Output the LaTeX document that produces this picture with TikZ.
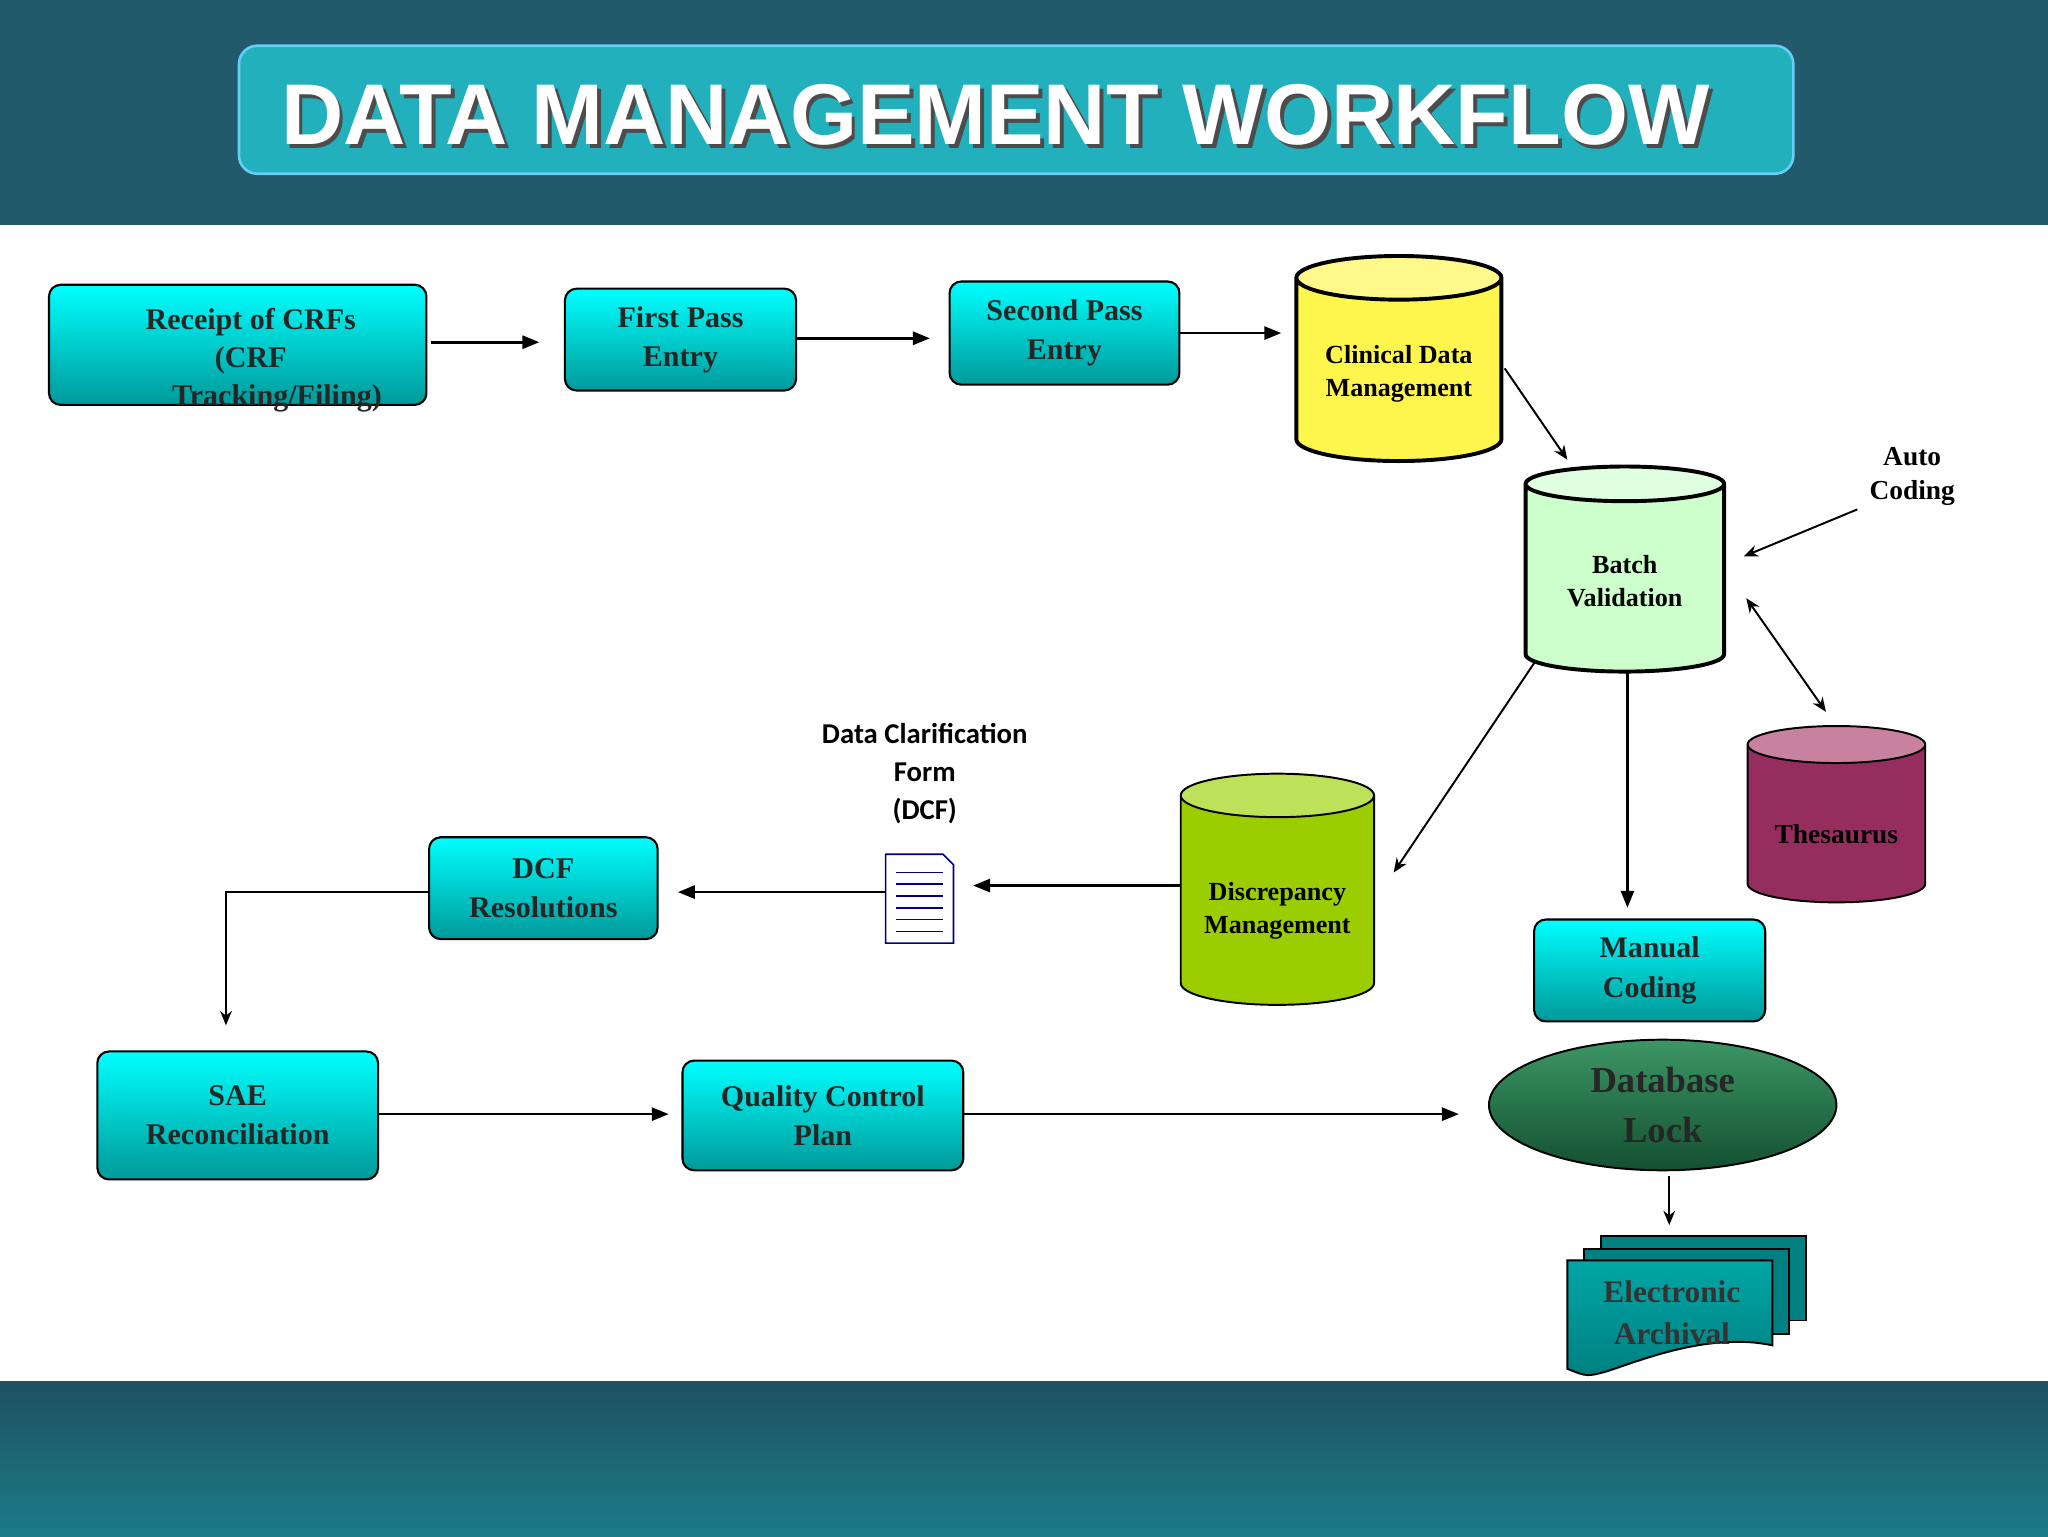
\documentclass[tikz,border=0pt]{standalone}
\usepackage{fontspec}
\setmainfont{Liberation Serif}
\newfontfamily\titlefont{Liberation Sans}
\newfontfamily\dcffont{Carlito}
\usetikzlibrary{shapes.geometric,arrows.meta,shadows}
\definecolor{band}{HTML}{225A6C}
\definecolor{titlebox}{HTML}{22B0BD}
\begin{document}
\begin{tikzpicture}[x=1pt,y=-1pt,
  box/.style={draw=black,line width=1.6pt,rounded corners=9pt,top color=cyan,bottom color=teal!80!cyan,
    align=center,font=\fontsize{23}{30}\selectfont\bfseries,text=black!85},
  cyl/.style={draw=black,line width=3pt,cylinder,shape border rotate=90,aspect=0.28,align=center,
    cylinder uses custom fill,font=\fontsize{20}{25}\selectfont\bfseries},
  arr/.style={line width=2pt,-{Triangle[length=13pt,width=10pt]}},
  thin/.style={line width=1.5pt,-{Stealth[length=11pt,width=9pt]}}]
\useasboundingbox (0,0) rectangle (1568,1176);
\fill[band] (0,0) rectangle (1568,172);
\fill[white] (0,172) rectangle (1568,1058);
\shade[top color=band!90!black,bottom color=band!80!cyan] (0,1058) rectangle (1568,1176);
\node[draw=cyan!60!white,line width=2pt,fill=titlebox,rounded corners=14pt,minimum width=1190pt,minimum height=98pt] (title) at (778,84) {};
\node[text=black!70,font=\titlefont\fontsize{66}{70}\selectfont\bfseries] at (765,91) {DATA MANAGEMENT WORKFLOW};
\node[text=white,font=\titlefont\fontsize{66}{70}\selectfont\bfseries] (tt) at (762,88) {DATA MANAGEMENT WORKFLOW};

\node[box,minimum width=289pt,minimum height=92pt] (rec) at (182,264) {};
\node[font=\fontsize{23}{29}\selectfont\bfseries,text=black!85,align=center] (rect) at (192,276) {Receipt of CRFs\\(CRF\\\hspace*{40pt}Tracking/Filing)};
\node[box,minimum width=177pt,minimum height=78pt] (fp) at (521,260) {First Pass\\Entry};
\node[box,minimum width=176pt,minimum height=79pt] (sp) at (815,255) {Second Pass\\Entry};
\node[cyl,cylinder body fill=yellow!70!white,cylinder end fill=yellow!45!white,minimum width=157pt,minimum height=157pt] (cdm) at (1071,286) {Clinical Data\\Management};
\node[cyl,cylinder body fill=green!20!white,cylinder end fill=green!12!white,minimum width=152pt,minimum height=157pt] (bv) at (1244,445) {Batch\\Validation};
\node[cyl,line width=1.5pt,cylinder body fill={rgb,255:red,150;green,45;blue,95},cylinder end fill={rgb,255:red,200;green,130;blue,160},minimum width=136pt,minimum height=135pt,font=\fontsize{21}{26}\selectfont\bfseries] (th) at (1406,633) {\\Thesaurus};
\node[cyl,line width=1.5pt,cylinder body fill={rgb,255:red,155;green,205;blue,0},cylinder end fill={rgb,255:red,190;green,225;blue,90},minimum width=148pt,minimum height=177pt] (dm) at (978,692) {\\Discrepancy\\Management};
\node[box,minimum width=177pt,minimum height=78pt] (mc) at (1263,743) {Manual\\Coding};
\node[box,minimum width=175pt,minimum height=78pt] (dcf) at (416,680) {DCF\\Resolutions};
\node[box,minimum width=215pt,minimum height=98pt] (sae) at (182,854) {SAE\\Reconciliation};
\node[box,minimum width=215pt,minimum height=84pt] (qc) at (630,854) {Quality Control\\Plan};
\node[ellipse,draw=black,line width=1.5pt,top color={rgb,255:red,60;green,150;blue,100},bottom color={rgb,255:red,20;green,80;blue,50},minimum width=266pt,minimum height=100pt,align=center,font=\fontsize{28}{38}\selectfont\bfseries,text=black!85] (db) at (1273,846) {Database\\Lock};
\node[font=\fontsize{21}{26}\selectfont\bfseries,align=center] (auto) at (1464,365) {Auto\\Coding};
\node[font=\dcffont\fontsize{22}{29}\selectfont\bfseries,align=center] (dcfl) at (708,592) {Data Clarification\\Form\\(DCF)};
% document icon
\draw[blue!50!black,line width=1.2pt,fill=white] (678,654) -- (722,654) -- (730,662) -- (730,722) -- (678,722) -- cycle;
\foreach \yy in {668,677,686,695,704,713} \draw[blue!50!black,line width=1.2pt] (686,\yy) -- (722,\yy);
\coordinate (docL) at (678,683);
\coordinate (docR) at (745,678);
\coordinate (dmL) at (904,678);
% archival
\foreach \dx/\dy in {26/-19,13/-9} \draw[line width=1.5pt,fill=teal] (1200+\dx,965+\dy) rectangle (1357+\dx,1030+\dy);
\draw[line width=1.5pt,top color=teal!70!cyan,bottom color=teal] (1200,965) -- (1357,965) -- (1357,1030) .. controls (1310,1020) and (1260,1040) .. (1230,1050) .. controls (1215,1054) .. (1200,1048) -- cycle;
\node[font=\fontsize{24}{32}\selectfont\bfseries,align=center,text=black!80] (ea) at (1280,1005) {Electronic\\Archival};
% arrows
\draw[arr] (330,262) -- (413,262);
\draw[arr] (610,259) -- (712,259);
\draw[arr] (903,255) -- (981,255);
\draw[thin] (1152,282) -- (1200,352);
\draw[thin] (1422,390) -- (1335,426);
\draw[thin,{Stealth[length=11pt,width=9pt]}-{Stealth[length=11pt,width=9pt]}] (1337,458) -- (1398,545);
\draw[arr] (1246,515) -- (1246,695);
\draw[thin] (1175,507) -- (1067,668);
\draw[arr] (dmL) -- (docR);
\draw[arr] (docL) -- (519,683);
\draw[thin] (329,683) -- (173,683) -- (173,785);
\draw[arr] (290,853) -- (512,853);
\draw[arr] (738,853) -- (1117,853);
\draw[thin] (1278,900) -- (1278,938);
\end{tikzpicture}
\end{document}
